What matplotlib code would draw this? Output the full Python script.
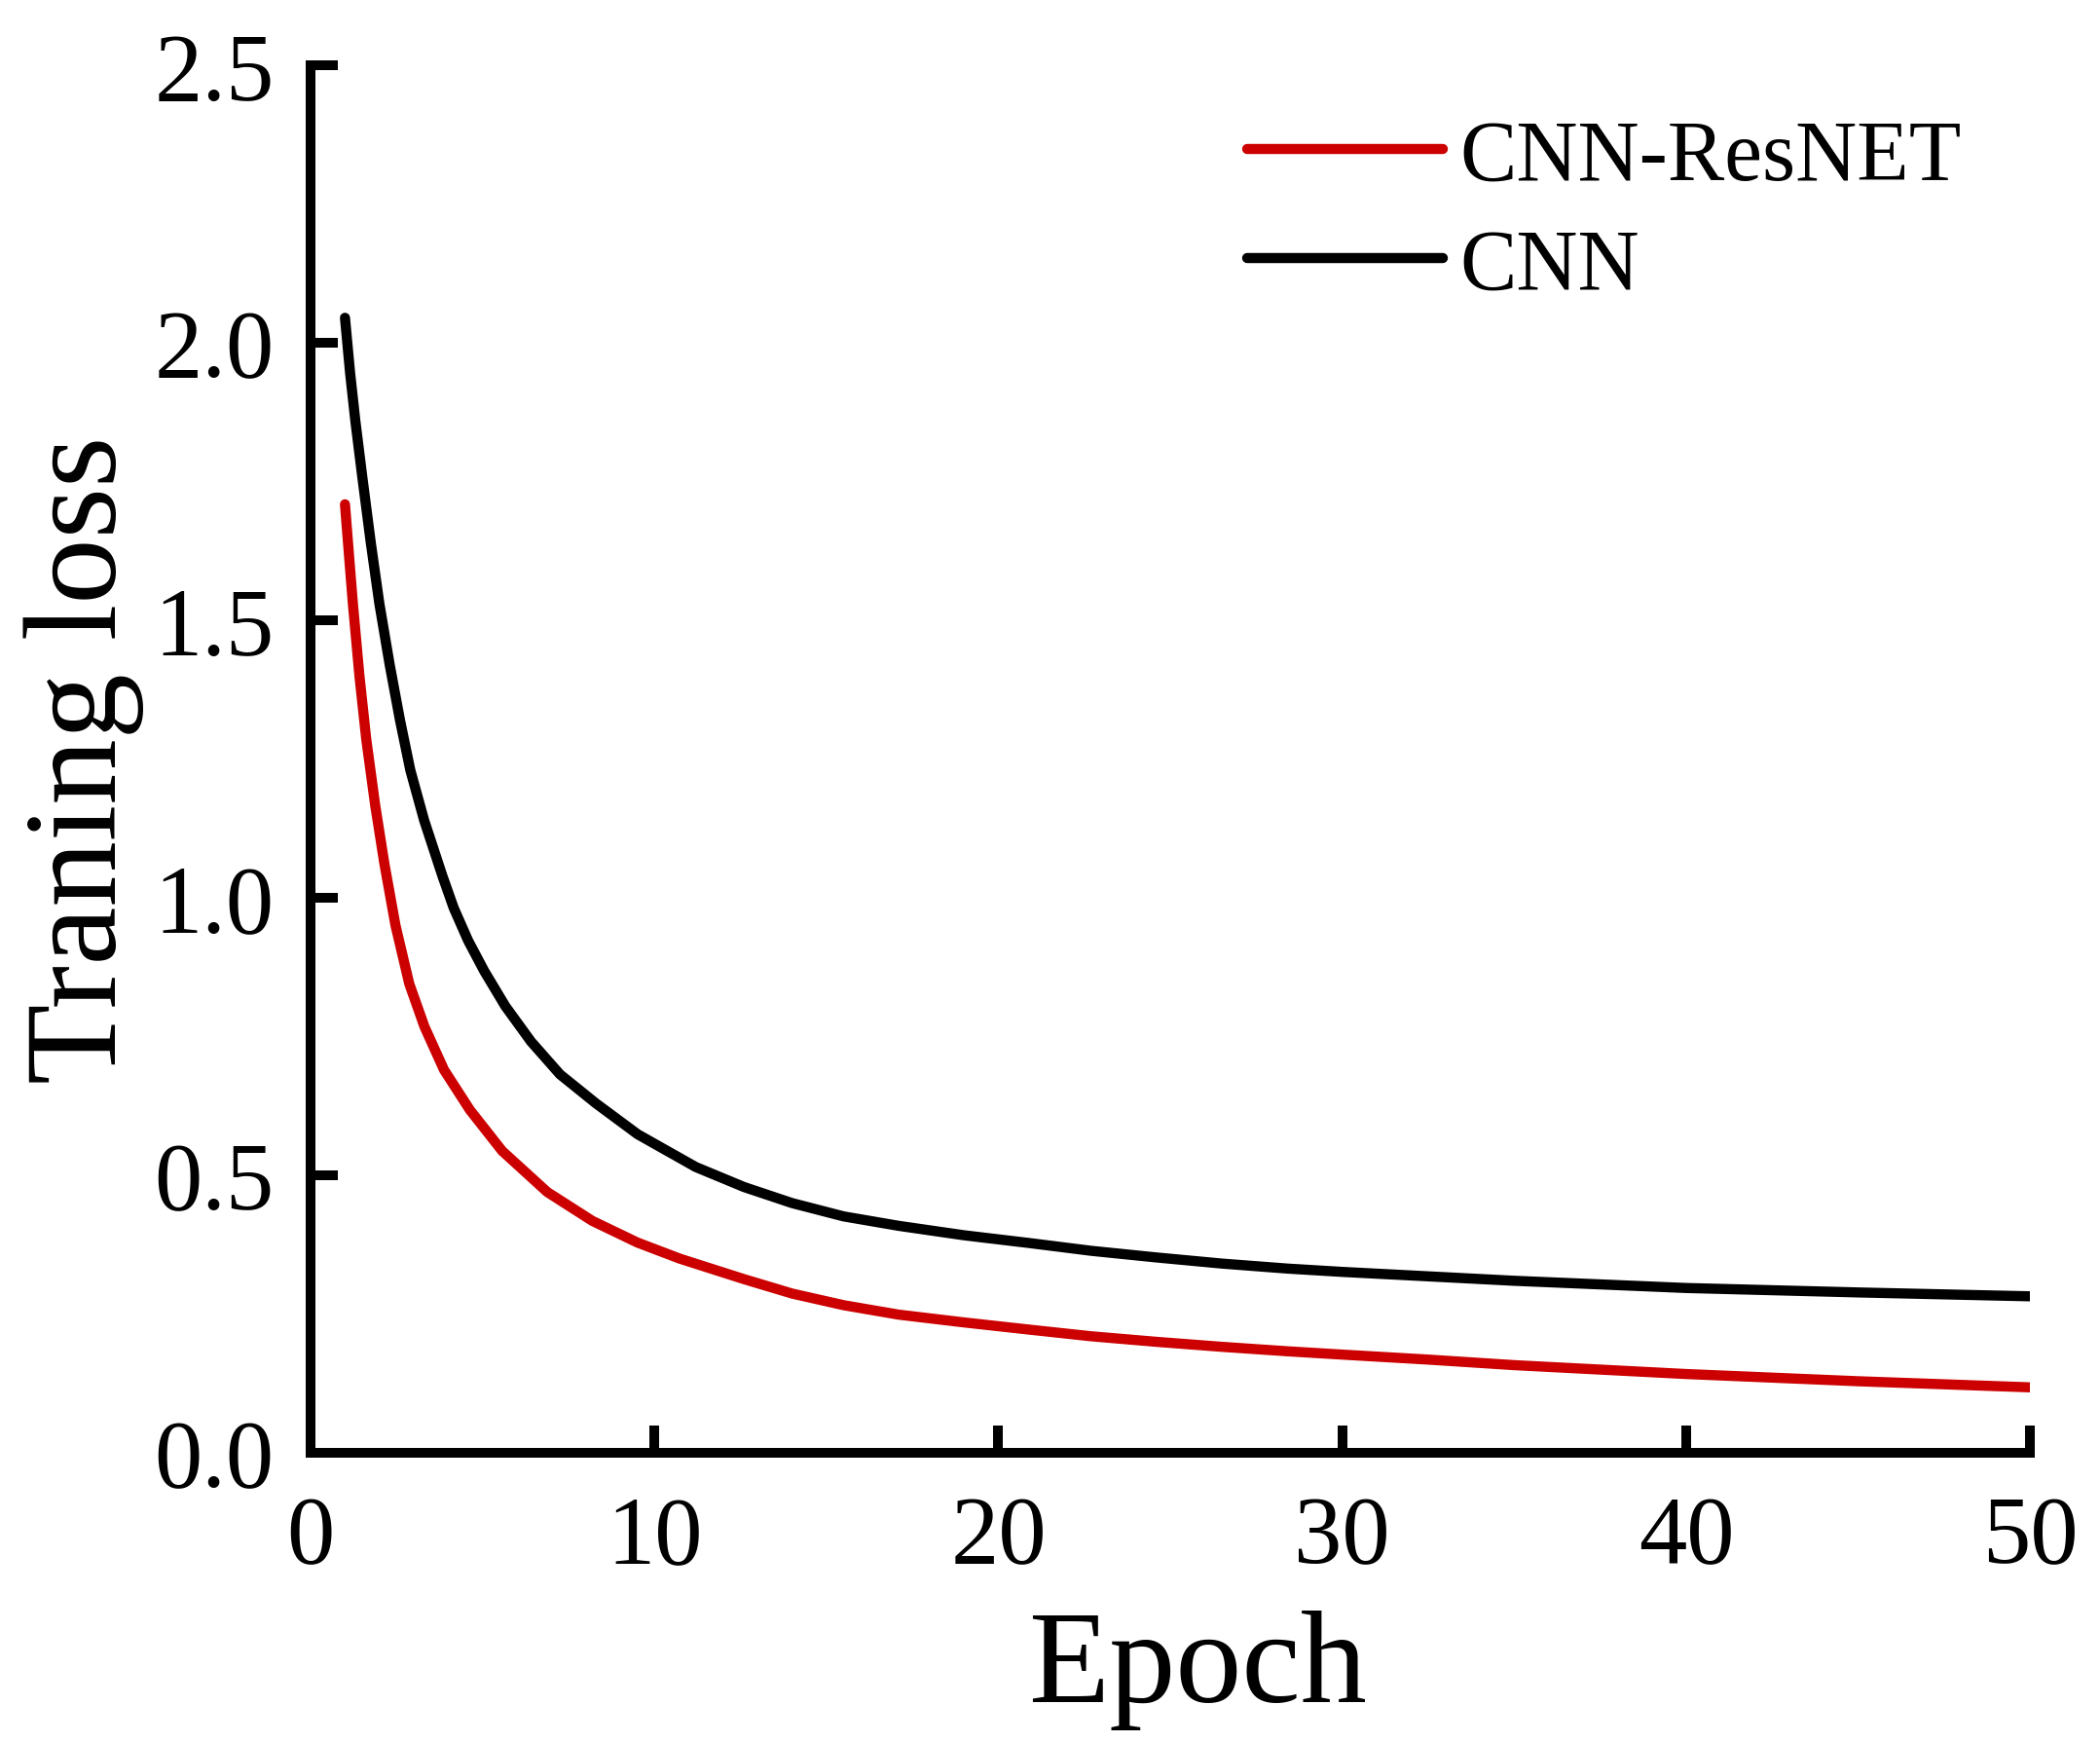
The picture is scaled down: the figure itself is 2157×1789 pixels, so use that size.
import matplotlib
matplotlib.use("Agg")
import matplotlib.pyplot as plt

plt.rcParams["font.family"] = ["Liberation Serif", "DejaVu Serif"]

# values
cnn_epoch = [1.0, 1.15, 1.3, 1.5, 1.75, 2.0, 2.3, 2.6, 2.9, 3.3, 3.83, 4.16,
             4.58, 5.05, 5.66, 6.41, 7.25, 8.29, 9.51, 11.2, 12.6, 14.0,
             15.5, 17.1, 19.0, 20.9, 22.7, 24.6, 26.5, 28.4, 30.0, 32.5,
             35.0, 40.0, 45.0, 50.0]
cnn_loss = [2.045, 1.945, 1.86, 1.76, 1.64, 1.53, 1.42, 1.32, 1.23, 1.14,
            1.040, 0.982, 0.923, 0.868, 0.805, 0.741, 0.682, 0.630, 0.574,
            0.515, 0.479, 0.450, 0.426, 0.409, 0.392, 0.378, 0.364, 0.352,
            0.341, 0.332, 0.326, 0.318, 0.310, 0.297, 0.289, 0.282]

resnet_epoch = [1.0, 1.12, 1.23, 1.42, 1.62, 1.88, 2.15, 2.47, 2.87, 3.31,
                3.88, 4.63, 5.57, 6.88, 8.19, 9.5, 10.73, 12.6, 14.0, 15.5,
                17.1, 19.0, 20.9, 22.7, 24.6, 26.5, 28.4, 30.0, 32.5, 35.0,
                40.0, 45.0, 50.0]
resnet_loss = [1.709, 1.615, 1.53, 1.40, 1.285, 1.166, 1.06, 0.95, 0.845,
               0.768, 0.690, 0.618, 0.544, 0.470, 0.418, 0.379, 0.350, 0.313,
               0.287, 0.266, 0.249, 0.235, 0.222, 0.210, 0.200, 0.191, 0.183,
               0.177, 0.168, 0.158, 0.142, 0.129, 0.118]

x_ticks = [0, 10, 20, 30, 40, 50]
y_ticks = [0.0, 0.5, 1.0, 1.5, 2.0, 2.5]

fig = plt.figure(figsize=(21.57, 17.90), dpi=100)
ax = fig.add_axes([0.1479, 0.1659, 0.8188, 0.7961])

ax.plot(resnet_epoch, resnet_loss, color="#cc0000", lw=7.5,
        solid_capstyle="round", solid_joinstyle="round", label="CNN-ResNET")
ax.plot(cnn_epoch, cnn_loss, color="black", lw=7.5,
        solid_capstyle="round", solid_joinstyle="round", label="CNN")

ax.set_xlim(0, 50)
ax.set_ylim(0, 2.5)
ax.set_xticks(x_ticks)
ax.set_yticks(y_ticks)
ax.set_yticklabels(["%.1f" % v for v in y_ticks])

for side in ["top", "right"]:
    ax.spines[side].set_visible(False)
for side in ["left", "bottom"]:
    ax.spines[side].set_linewidth(7.2)

ax.tick_params(axis="both", direction="in", length=20, width=7.2,
               labelsize=71)
ax.tick_params(axis="y", pad=27)
ax.tick_params(axis="x", pad=31)

ax.set_xlabel("Epoch", fontsize=98, labelpad=20)
ax.xaxis.label.set_x(0.516)
ax.set_ylabel("Traning loss", fontsize=97, labelpad=7)

leg = ax.legend(loc="upper left", bbox_to_anchor=(0.5445, 0.962),
                frameon=False, fontsize=63, handlelength=2.3,
                handletextpad=0.2, labelspacing=0.36, borderpad=0,
                borderaxespad=0)

fig.savefig("out.png", dpi=100)
